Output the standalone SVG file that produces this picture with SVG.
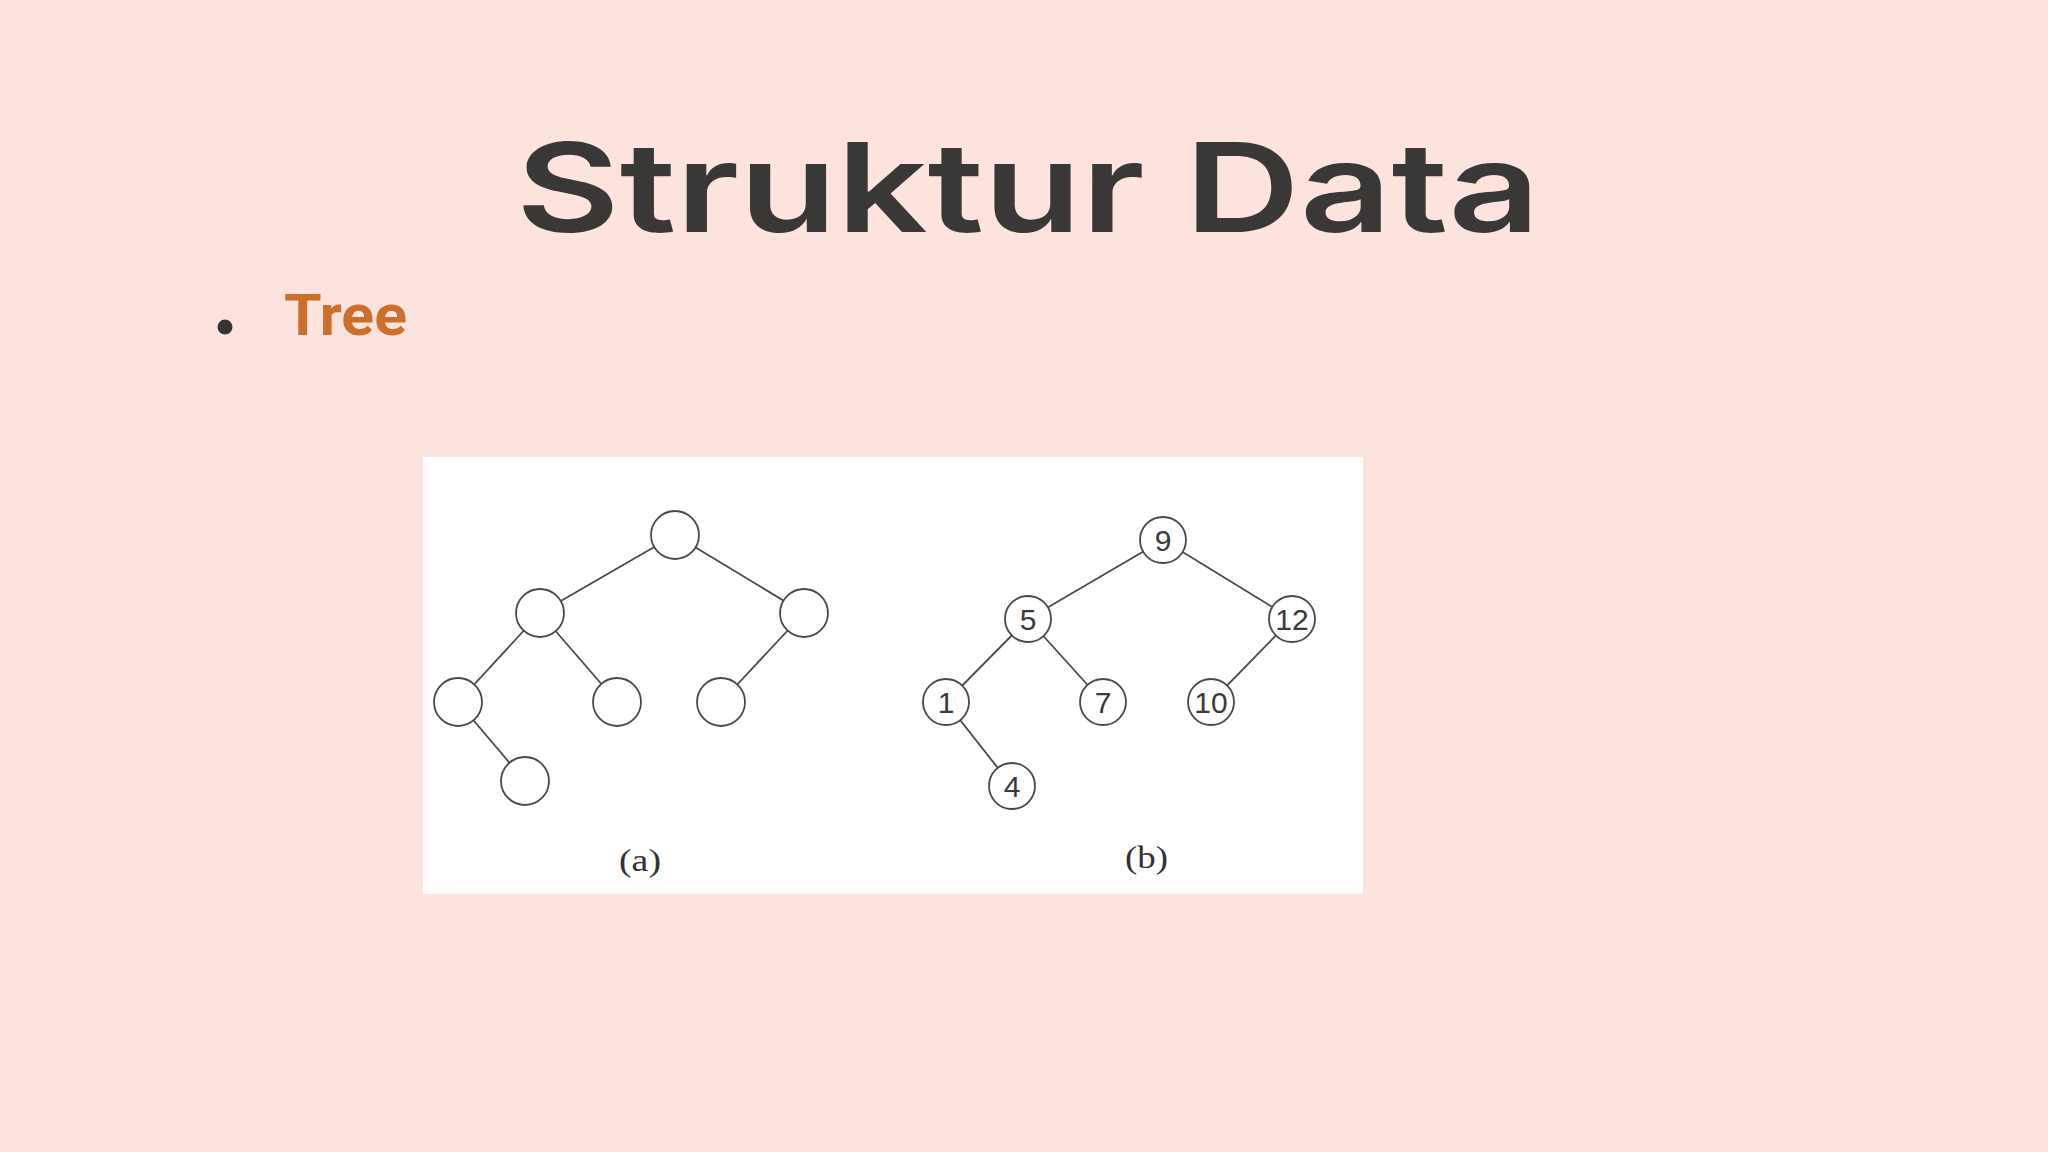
<svg xmlns="http://www.w3.org/2000/svg" width="2048" height="1152" viewBox="0 0 2048 1152">
<style>
.edge{stroke:#4a4a4a;stroke-width:1.8;fill:none}
.node{fill:#fff;stroke:#4a4a4a;stroke-width:1.8}
.num{font-family:"Liberation Sans",Arial,sans-serif;font-size:30px;fill:#3a3a3a;text-anchor:middle}
.cap{font-family:"Liberation Serif","Times New Roman",serif;font-size:32px;fill:#333}
</style>
<rect width="2048" height="1152" fill="#fce3dd"/>
<text x="516" y="232" font-family="Inter, Liberation Sans, Arial, sans-serif" font-weight="600" font-size="124" fill="#3a3836" textLength="1024" lengthAdjust="spacingAndGlyphs">Struktur Data</text>
<circle cx="225" cy="327" r="7.5" fill="#333"/>
<text x="284" y="335" font-family="Roboto, Liberation Sans, sans-serif" font-weight="bold" font-size="57" fill="#cc6f2b" textLength="123" lengthAdjust="spacingAndGlyphs">Tree</text>
<rect x="423" y="457" width="940" height="437" fill="#fff"/>
<g id="connectors">
<line class="edge" x1="675" y1="535" x2="540" y2="613"/>
<line class="edge" x1="675" y1="535" x2="804" y2="613"/>
<line class="edge" x1="540" y1="613" x2="458" y2="702"/>
<line class="edge" x1="540" y1="613" x2="617" y2="702"/>
<line class="edge" x1="804" y1="613" x2="721" y2="702"/>
<line class="edge" x1="458" y1="702" x2="525" y2="781"/>
<line class="edge" x1="1163" y1="540" x2="1028" y2="619"/>
<line class="edge" x1="1163" y1="540" x2="1292" y2="619"/>
<line class="edge" x1="1028" y1="619" x2="946" y2="702"/>
<line class="edge" x1="1028" y1="619" x2="1103" y2="702"/>
<line class="edge" x1="1292" y1="619" x2="1211" y2="702"/>
<line class="edge" x1="946" y1="702" x2="1012" y2="786"/>
</g>
<g id="a-root"><circle class="node" cx="675" cy="535" r="24"/></g>
<g id="a-l"><circle class="node" cx="540" cy="613" r="24"/></g>
<g id="a-r"><circle class="node" cx="804" cy="613" r="24"/></g>
<g id="a-ll"><circle class="node" cx="458" cy="702" r="24"/></g>
<g id="a-lr"><circle class="node" cx="617" cy="702" r="24"/></g>
<g id="a-rl"><circle class="node" cx="721" cy="702" r="24"/></g>
<g id="a-llr"><circle class="node" cx="525" cy="781" r="24"/></g>
<g id="b-9"><circle class="node" cx="1163" cy="540" r="23"/><text class="num" x="1163" y="551">9</text></g>
<g id="b-5"><circle class="node" cx="1028" cy="619" r="23"/><text class="num" x="1028" y="630">5</text></g>
<g id="b-12"><circle class="node" cx="1292" cy="619" r="23"/><text class="num" x="1292" y="630">12</text></g>
<g id="b-1"><circle class="node" cx="946" cy="702" r="23"/><text class="num" x="946" y="713">1</text></g>
<g id="b-7"><circle class="node" cx="1103" cy="702" r="23"/><text class="num" x="1103" y="713">7</text></g>
<g id="b-10"><circle class="node" cx="1211" cy="702" r="23"/><text class="num" x="1211" y="713">10</text></g>
<g id="b-4"><circle class="node" cx="1012" cy="786" r="23"/><text class="num" x="1012" y="797">4</text></g>
<text class="cap" x="619" y="871" textLength="42" lengthAdjust="spacingAndGlyphs">(a)</text>
<text class="cap" x="1125" y="868" textLength="43" lengthAdjust="spacingAndGlyphs">(b)</text>
</svg>
